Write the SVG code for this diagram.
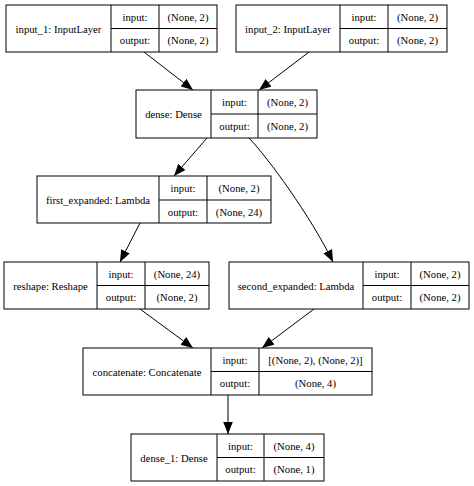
<svg xmlns="http://www.w3.org/2000/svg" width="474" height="486" viewBox="0 0 474 486">
<defs>
<style>
rect,line.d{fill:#fff;stroke:#000;stroke-width:1}
line.d{fill:none}
text{font-family:"Liberation Serif","Times New Roman",serif;font-size:10.7px;fill:#000;text-anchor:middle;dominant-baseline:central}
.e{fill:none;stroke:#000;stroke-width:1;marker-end:url(#ah)}
</style>
<marker id="ah" markerUnits="userSpaceOnUse" markerWidth="12" markerHeight="10" viewBox="0 0 10 8" refX="10" refY="4" orient="auto">
<path d="M0,0 L10,4 L0,8 Z" fill="#000"/>
</marker>
</defs>
<g id="connectors">
<path class="e" d="M144,52 L193,90"/>
<path class="e" d="M309,52 L259,90"/>
<path class="e" d="M207,138 L174,176"/>
<path class="e" d="M249,138 C268,158 310,215 333,262"/>
<path class="e" d="M140,223 L120,262"/>
<path class="e" d="M140,309 L193,348"/>
<path class="e" d="M314,309 L262,348"/>
<path class="e" d="M228,395 L228,434"/>
</g>
<g id="input_1">
<rect x="6" y="5" width="211" height="47"/>
<line class="d" x1="111" y1="5" x2="111" y2="52"/><line class="d" x1="159" y1="5" x2="159" y2="52"/><line class="d" x1="111" y1="28.5" x2="217" y2="28.5"/>
<text x="58.5" y="28.5">input_1: InputLayer</text>
<text x="135" y="16.7">input:</text><text x="135" y="40.3">output:</text>
<text x="188" y="16.7">(None, 2)</text><text x="188" y="40.3">(None, 2)</text>
</g>
<g id="input_2">
<rect x="236" y="5" width="211" height="47"/>
<line class="d" x1="340" y1="5" x2="340" y2="52"/><line class="d" x1="388" y1="5" x2="388" y2="52"/><line class="d" x1="340" y1="28.5" x2="447" y2="28.5"/>
<text x="288" y="28.5">input_2: InputLayer</text>
<text x="364" y="16.7">input:</text><text x="364" y="40.3">output:</text>
<text x="417.5" y="16.7">(None, 2)</text><text x="417.5" y="40.3">(None, 2)</text>
</g>
<g id="dense">
<rect x="136" y="90" width="181" height="48"/>
<line class="d" x1="211" y1="90" x2="211" y2="138"/><line class="d" x1="258" y1="90" x2="258" y2="138"/><line class="d" x1="211" y1="114" x2="317" y2="114"/>
<text x="173.5" y="114">dense: Dense</text>
<text x="234.5" y="102">input:</text><text x="234.5" y="126">output:</text>
<text x="287.5" y="102">(None, 2)</text><text x="287.5" y="126">(None, 2)</text>
</g>
<g id="first_expanded">
<rect x="37" y="176" width="234" height="47"/>
<line class="d" x1="159" y1="176" x2="159" y2="223"/><line class="d" x1="207" y1="176" x2="207" y2="223"/><line class="d" x1="159" y1="200" x2="271" y2="200"/>
<text x="98" y="199.5">first_expanded: Lambda</text>
<text x="183" y="188">input:</text><text x="183" y="211.5">output:</text>
<text x="239" y="188">(None, 2)</text><text x="239" y="211.5">(None, 24)</text>
</g>
<g id="reshape">
<rect x="4" y="262" width="205" height="47"/>
<line class="d" x1="97" y1="262" x2="97" y2="309"/><line class="d" x1="145" y1="262" x2="145" y2="309"/><line class="d" x1="97" y1="285.5" x2="209" y2="285.5"/>
<text x="50.5" y="285.5">reshape: Reshape</text>
<text x="121" y="273.8">input:</text><text x="121" y="297.3">output:</text>
<text x="177" y="273.8">(None, 24)</text><text x="177" y="297.3">(None, 2)</text>
</g>
<g id="second_expanded">
<rect x="229" y="262" width="240" height="47"/>
<line class="d" x1="363" y1="262" x2="363" y2="309"/><line class="d" x1="411" y1="262" x2="411" y2="309"/><line class="d" x1="363" y1="285.5" x2="469" y2="285.5"/>
<text x="296" y="285.5">second_expanded: Lambda</text>
<text x="387" y="273.8">input:</text><text x="387" y="297.3">output:</text>
<text x="440" y="273.8">(None, 2)</text><text x="440" y="297.3">(None, 2)</text>
</g>
<g id="concatenate">
<rect x="83" y="348" width="289" height="47"/>
<line class="d" x1="211" y1="348" x2="211" y2="395"/><line class="d" x1="259" y1="348" x2="259" y2="395"/><line class="d" x1="211" y1="371.5" x2="372" y2="371.5"/>
<text x="147" y="371.5">concatenate: Concatenate</text>
<text x="235" y="359.8">input:</text><text x="235" y="383.3">output:</text>
<text x="315.5" y="359.8">[(None, 2), (None, 2)]</text><text x="315.5" y="383.3">(None, 4)</text>
</g>
<g id="dense_1">
<rect x="131" y="434" width="193" height="47"/>
<line class="d" x1="217" y1="434" x2="217" y2="481"/><line class="d" x1="264" y1="434" x2="264" y2="481"/><line class="d" x1="217" y1="457.5" x2="324" y2="457.5"/>
<text x="174" y="457.5">dense_1: Dense</text>
<text x="240.5" y="445.8">input:</text><text x="240.5" y="469.3">output:</text>
<text x="294" y="445.8">(None, 4)</text><text x="294" y="469.3">(None, 1)</text>
</g>
</svg>
